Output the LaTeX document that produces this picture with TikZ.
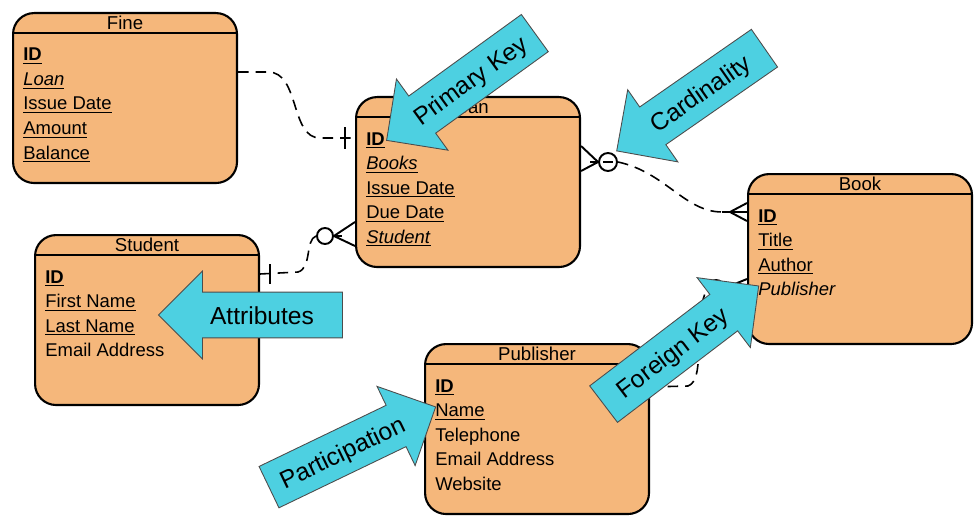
\documentclass[tikz,border=0pt]{standalone}
\usepackage{fontspec}
\setmainfont{Liberation Sans}
\usepackage{xcolor}
\usetikzlibrary{positioning,arrows.meta,shapes.arrows,calc}

\definecolor{entfill}{HTML}{F5B77B}
\definecolor{callcyan}{HTML}{4DD0E1}

\tikzset{
  entity/.style={draw, line width=1.2pt, fill=entfill, rounded corners=12pt,
    minimum width=4.48cm, minimum height=3.4cm, anchor=north west},
  row/.style={anchor=base west, inner sep=0pt, font=\fontsize{10.5}{13}\selectfont},
  title/.style={inner sep=0pt, font=\fontsize{10.6}{13}\selectfont},
  rel/.style={dashed, dash pattern=on 6pt off 4pt, line width=0.9pt},
  tick/.style={line width=1.1pt},
  callout/.style={single arrow, draw=black!70, fill=callcyan, line width=0.5pt,
    single arrow head extend=0.42cm, single arrow tip angle=90,
    text height=0.5cm, text depth=0.14cm, inner ysep=0.13cm, inner xsep=0.1cm,
    font=\fontsize{14}{16}\selectfont}
}

% entity box: name, x, y, title, rows
\newcommand\entity[5]{
  \node[entity] (#1) at (#2,#3) {};
  \draw[line width=1.1pt] ($(#1.north west)+(0,21)$) -- ($(#1.north east)+(0,21)$);
  \node[title] at ($(#1.north)+(0,11)$) {#4};
  \foreach \r [count=\i] in {#5}
    \node[row] at ($(#1.north west)+(11,{49+24.5*(\i-1)})$) {\r};
}

\begin{document}
\begin{tikzpicture}[x=0.02cm,y=-0.02cm]
\useasboundingbox (0,0) rectangle (980,517);

% entities
\entity{fine}{12}{12}{Fine}{\underline{\textbf{ID}},\underline{\textit{Loan}},\underline{Issue Date},\underline{Amount},\underline{Balance}}
\entity{loan}{355}{96}{Loan}{\underline{\textbf{ID}},\underline{\textit{Books}},\underline{Issue Date},\underline{Due Date},\underline{\textit{Student}}}
\entity{student}{34}{234}{Student}{\underline{\textbf{ID}},\underline{First Name},\underline{Last Name},Email Address}
\entity{book}{747}{173}{Book}{\underline{\textbf{ID}},\underline{Title},\underline{Author},\textit{Publisher}}
\entity{publisher}{424}{343}{Publisher}{\underline{\textbf{ID}},\underline{Name},Telephone,Email Address,Website}

% Fine -- Loan
\coordinate (fl) at ($(loan.north west)+(0,42)$);
\draw[rel] ($(fine.north east)+(0,60)$) -- ++(30,0)
  .. controls (300,72) and (290,138) .. (320,138) -- (fl);
\draw[tick] ($(fl)+(-10,-11)$) -- ++(0,22);

% Student -- Loan
\coordinate (sl) at ($(student.north east)+(0,40)$);
\node[draw, circle, tick, inner sep=0pt, minimum size=0.32cm] (c1) at (325,236) {};
\draw[rel] (sl) -- (298,272) .. controls (312,268) and (305,240) .. (c1.west);
\draw[tick] ($(sl)+(10,-10)$) -- ++(0,20);
\draw[tick] (c1.east) -- ($(loan.north west)+(0,126)$)
  (c1.east) -- ($(loan.north west)+(0,150)$) (c1.east) -- ++(8,0);

% Loan -- Book
\node[draw, circle, tick, inner sep=0pt, minimum size=0.36cm] (c2) at (608,162) {};
\draw[tick] (603,162) -- (613,162);
\draw[tick] (c2.west) -- ($(loan.north east)+(0,50)$)
  (c2.west) -- ($(loan.north east)+(0,75)$) (c2.west) -- ++(-8,0);
\coordinate (lb) at ($(book.north west)+(0,39)$);
\draw[rel] (c2.east) .. controls (665,172) and (685,212) .. (722,212);
\draw[tick] (722,212) -- (lb) (730,212) -- ($(lb)+(0,-9)$) (730,212) -- ($(lb)+(0,9)$);

% Publisher -- Book
\coordinate (pb) at ($(publisher.north east)+(0,44)$);
\node[draw, circle, tick, inner sep=0pt, minimum size=0.32cm] (c3) at (716,288) {};
\draw[rel] (pb) -- (688,386) .. controls (705,380) and (695,330) .. (700,310)
  .. controls (704,296) and (706,290) .. (c3.west);
\draw[tick] (c3.east) -- ($(book.north west)+(0,106)$)
  (c3.east) -- ($(book.north west)+(0,122)$);

% callouts
\node[callout, minimum height=3.66cm, rotate=35.9, shape border rotate=180] (pk) at (470,80) {Primary Key};
\node[callout, minimum height=3.6cm, rotate=34.8, shape border rotate=180] (card) at (700,93) {Cardinality};
\node[callout, minimum height=3.68cm, shape border rotate=180] (attr) at (262,315) {Attributes};
\node[callout, minimum height=3.9cm, rotate=37.3] (fk) at (672,352) {Foreign Key};
\node[callout, minimum height=3.7cm, rotate=25.7] (part) at (342,452) {Participation};
\end{tikzpicture}
\end{document}
